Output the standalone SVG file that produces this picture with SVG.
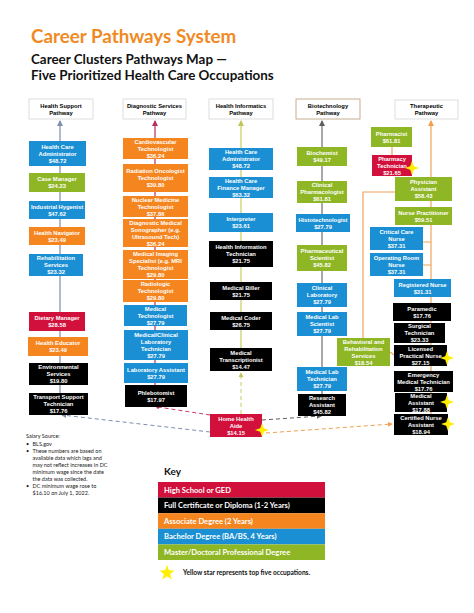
<svg xmlns="http://www.w3.org/2000/svg" width="474" height="613" viewBox="0 0 474 613">
<style>
.t{font-family:"Liberation Sans",Arial,sans-serif;font-weight:bold;font-size:5.8px;fill:#fff;text-anchor:middle}
.h{font-family:"Liberation Sans",Arial,sans-serif;font-weight:bold;font-size:5.8px;fill:#000;text-anchor:middle}
.hb{fill:#fff;stroke:#d4d4d4;stroke-width:0.8}
.blue{fill:#1a8fd3}.green{fill:#8fb624}.orange{fill:#f5851f}.red{fill:#d2103c}.black{fill:#000}
.ln{fill:none;stroke-width:1.2}
.ds{fill:none;stroke-width:1;stroke-dasharray:4 3}
.star{fill:#ffee00}
.title{font-family:Lato,"Liberation Sans",sans-serif;font-weight:bold}
.note{font-family:Lato,"Liberation Sans",sans-serif;font-size:5.5px;fill:#222}
.key{font-family:Lato,"Liberation Sans",sans-serif;font-weight:bold;font-size:7.6px;fill:#fff}
</style>
<defs>
<marker id="aBlue" viewBox="0 0 6 6" refX="5" refY="3" markerWidth="5" markerHeight="5" orient="auto"><path d="M0,0 L6,3 L0,6 Z" fill="#7d8cb0"/></marker>
<marker id="aRed" viewBox="0 0 6 6" refX="5" refY="3" markerWidth="5" markerHeight="5" orient="auto"><path d="M0,0 L6,3 L0,6 Z" fill="#b8305a"/></marker>
<marker id="aYel" viewBox="0 0 6 6" refX="5" refY="3" markerWidth="5" markerHeight="5" orient="auto"><path d="M0,0 L6,3 L0,6 Z" fill="#c0c45a"/></marker>
<marker id="aGray" viewBox="0 0 6 6" refX="5" refY="3" markerWidth="5" markerHeight="5" orient="auto"><path d="M0,0 L6,3 L0,6 Z" fill="#5e5e5e"/></marker>
<marker id="aOr" viewBox="0 0 6 6" refX="5" refY="3" markerWidth="5" markerHeight="5" orient="auto"><path d="M0,0 L6,3 L0,6 Z" fill="#f0a050"/></marker>
<marker id="dotRed" viewBox="0 0 6 6" refX="3" refY="3" markerWidth="4" markerHeight="4"><circle cx="3" cy="3" r="2.5" fill="#b8305a"/></marker>
<path id="s4" d="M0,-7 L1.8,-1.8 L7,0 L1.8,1.8 L0,7 L-1.8,1.8 L-7,0 L-1.8,-1.8 Z"/>
</defs>
<rect width="474" height="613" fill="#fff"/>

<g id="title">
<text class="title" x="31" y="43" font-size="18.8" fill="#f08a24">Career Pathways System</text>
<text class="title" x="31" y="64" font-size="13.4" fill="#111">Career Clusters Pathways Map —</text>
<text class="title" x="31" y="80" font-size="13.4" fill="#111">Five Prioritized Health Care Occupations</text>
</g>

<g id="connectors">
<path class="ln" stroke="#7d8cb0" d="M60,393 V121" marker-end="url(#aBlue)"/>
<path class="ln" stroke="#b8305a" d="M155,385 V121" marker-end="url(#aRed)"/>
<path class="ln" stroke="#c8cc60" d="M241,348 V121" marker-end="url(#aYel)"/>
<path class="ln" stroke="#6e6e6e" d="M322,394 V121" marker-end="url(#aGray)"/>
<path class="ln" stroke="#f2a35a" d="M431,414 V121" marker-end="url(#aOr)"/>
<path class="ln" stroke="#f2a35a" d="M363,338 V192 H395"/>
<path class="ln" stroke="#f2a35a" d="M390,352 L394,355"/>
<path class="ln" stroke="#f2a35a" d="M392,147 V155"/>
<path class="ln" stroke="#f2a35a" d="M423,242 H431 M423,265 H431"/>
<path class="ds" stroke="#7d8cb0" d="M210,432 L62,415" marker-end="url(#aBlue)"/>
<path class="ds" stroke="#c83a6a" d="M210,415 L158,407" marker-end="url(#dotRed)"/>
<path class="ds" stroke="#c8cc60" d="M241,414 V373" marker-end="url(#aYel)"/>
<path class="ds" stroke="#5e5e5e" d="M262,420 L321,416" marker-end="url(#aGray)"/>
<path class="ds" stroke="#f0a050" d="M266,433 L392,424" marker-end="url(#aOr)"/>
</g>

<g id="hdr-support"><rect class="hb" x="29" y="99" width="64" height="20"/><text class="h" x="61" y="107.5">Health Support<tspan x="61" dy="7">Pathway</tspan></text></g>
<g id="hdr-diag"><rect class="hb" x="123" y="99" width="63" height="20"/><text class="h" x="154.5" y="107.5">Diagnostic Services<tspan x="154.5" dy="7">Pathway</tspan></text></g>
<g id="hdr-info"><rect class="hb" x="209" y="99" width="64" height="20"/><text class="h" x="241" y="107.5">Health Informatics<tspan x="241" dy="7">Pathway</tspan></text></g>
<g id="hdr-bio"><rect class="hb" x="296" y="99" width="64" height="20" style="stroke:#b79a76"/><text class="h" x="328" y="107.5">Biotechnology<tspan x="328" dy="7">Pathway</tspan></text></g>
<g id="hdr-ther"><rect class="hb" x="395" y="100" width="63" height="19"/><text class="h" x="426.5" y="108">Therapeutic<tspan x="426.5" dy="7">Pathway</tspan></text></g>

<g id="hs-hca"><rect class="blue" x="29" y="141" width="57" height="25"/><text class="t" x="57.5" y="148.5">Health Care<tspan x="57.5" dy="7">Administrator</tspan><tspan x="57.5" dy="7">$48.72</tspan></text></g>
<g id="hs-case"><rect class="green" x="29" y="173" width="56" height="19"/><text class="t" x="57" y="181">Case Manager<tspan x="57" dy="7">$24.23</tspan></text></g>
<g id="hs-hyg"><rect class="blue" x="29" y="201" width="56" height="18"/><text class="t" x="57" y="208.5">Industrial Hygenist<tspan x="57" dy="7">$47.62</tspan></text></g>
<g id="hs-nav"><rect class="orange" x="29" y="227" width="56" height="18"/><text class="t" x="57" y="234.5">Health Navigator<tspan x="57" dy="7">$23.49</tspan></text></g>
<g id="hs-rehab"><rect class="blue" x="29" y="254" width="54" height="22"/><text class="t" x="56" y="260">Rehabilitation<tspan x="56" dy="7">Services</tspan><tspan x="56" dy="7">$23.32</tspan></text></g>
<g id="hs-diet"><rect class="red" x="29" y="312" width="56" height="19"/><text class="t" x="57" y="320">Dietary Manager<tspan x="57" dy="7">$28.58</tspan></text></g>
<g id="hs-edu"><rect class="orange" x="28" y="337" width="60" height="19"/><text class="t" x="58" y="345">Health Educator<tspan x="58" dy="7">$23.49</tspan></text></g>
<g id="hs-env"><rect class="black" x="29" y="363" width="59" height="22"/><text class="t" x="58.5" y="369">Environmental<tspan x="58.5" dy="7">Services</tspan><tspan x="58.5" dy="7">$19.80</tspan></text></g>
<g id="hs-trans"><rect class="black" x="29" y="393" width="59" height="22"/><text class="t" x="58.5" y="399">Transport Support<tspan x="58.5" dy="7">Technician</tspan><tspan x="58.5" dy="7">$17.76</tspan></text></g>

<g id="ds-cardio"><rect class="orange" x="123" y="138" width="65" height="21"/><text class="t" x="155.5" y="143.5">Cardiovascular<tspan x="155.5" dy="7">Technologist</tspan><tspan x="155.5" dy="7">$36.24</tspan></text></g>
<g id="ds-rad-onc"><rect class="orange" x="123" y="164" width="65" height="28"/><text class="t" x="155.5" y="173">Radiation Oncologist<tspan x="155.5" dy="7">Technologist</tspan><tspan x="155.5" dy="7">$39.80</tspan></text></g>
<g id="ds-nuc"><rect class="orange" x="123" y="196" width="65" height="21"/><text class="t" x="155.5" y="201.5">Nuclear Medicine<tspan x="155.5" dy="7">Technologist</tspan><tspan x="155.5" dy="7">$37.86</tspan></text></g>
<g id="ds-sono"><rect class="orange" x="123" y="219" width="65" height="28"/><text class="t" x="155.5" y="224.5">Diagnostic Medical<tspan x="155.5" dy="7">Sonographer (e.g.</tspan><tspan x="155.5" dy="7">Ultrasound Tech)</tspan><tspan x="155.5" dy="7">$36.24</tspan></text></g>
<g id="ds-mri"><rect class="orange" x="123" y="250" width="65" height="29"/><text class="t" x="155.5" y="256">Medical Imaging<tspan x="155.5" dy="7">Specialist (e.g. MRI</tspan><tspan x="155.5" dy="7">Technologist</tspan><tspan x="155.5" dy="7">$29.80</tspan></text></g>
<g id="ds-radio"><rect class="orange" x="123" y="280" width="65" height="22"/><text class="t" x="155.5" y="286">Radiologic<tspan x="155.5" dy="7">Technologist</tspan><tspan x="155.5" dy="7">$29.80</tspan></text></g>
<g id="ds-medtech"><rect class="blue" x="124" y="305" width="63" height="21"/><text class="t" x="155.5" y="310.5">Medical<tspan x="155.5" dy="7">Technologist</tspan><tspan x="155.5" dy="7">$27.79</tspan></text></g>
<g id="ds-clt"><rect class="blue" x="124" y="330" width="64" height="30"/><text class="t" x="156" y="336.5">Medical/Clinical<tspan x="156" dy="7">Laboratory</tspan><tspan x="156" dy="7">Technician</tspan><tspan x="156" dy="7">$27.79</tspan></text></g>
<g id="ds-labasst"><rect class="blue" x="124" y="363" width="64" height="20"/><text class="t" x="156" y="371.5">Laboratory Assistant<tspan x="156" dy="7">$27.79</tspan></text></g>
<g id="ds-phleb"><rect class="black" x="125" y="385" width="62" height="22"/><text class="t" x="156" y="394.5">Phlebotomist<tspan x="156" dy="7">$17.97</tspan></text></g>

<g id="hi-hca"><rect class="blue" x="209" y="148" width="64" height="22"/><text class="t" x="241" y="154">Health Care<tspan x="241" dy="7">Administrator</tspan><tspan x="241" dy="7">$48.72</tspan></text></g>
<g id="hi-fin"><rect class="blue" x="209" y="177" width="64" height="21"/><text class="t" x="241" y="182.5">Health Care<tspan x="241" dy="7">Finance Manager</tspan><tspan x="241" dy="7">$63.32</tspan></text></g>
<g id="hi-interp"><rect class="blue" x="209" y="213" width="64" height="19"/><text class="t" x="241" y="221">Interpreter<tspan x="241" dy="7">$23.61</tspan></text></g>
<g id="hi-hit"><rect class="black" x="209" y="241" width="64" height="26"/><text class="t" x="241" y="249">Health Information<tspan x="241" dy="7">Technician</tspan><tspan x="241" dy="7">$21.75</tspan></text></g>
<g id="hi-biller"><rect class="black" x="210" y="282" width="62" height="18"/><text class="t" x="241" y="289.5">Medical Biller<tspan x="241" dy="7">$21.75</tspan></text></g>
<g id="hi-coder"><rect class="black" x="210" y="312" width="62" height="18"/><text class="t" x="241" y="319.5">Medical Coder<tspan x="241" dy="7">$26.75</tspan></text></g>
<g id="hi-trans"><rect class="black" x="210" y="348" width="62" height="23"/><text class="t" x="241" y="354.5">Medical<tspan x="241" dy="7">Transcriptionist</tspan><tspan x="241" dy="7">$14.47</tspan></text></g>
<g id="hha"><rect class="red" x="210" y="414" width="52" height="23"/><text class="t" x="236" y="420.5">Home Health<tspan x="236" dy="7">Aide</tspan><tspan x="236" dy="7">$14.15</tspan></text><use href="#s4" class="star" x="262" y="430"/></g>

<g id="bt-biochem"><rect class="green" x="297" y="147" width="50" height="19"/><text class="t" x="322" y="155">Biochemist<tspan x="322" dy="7">$49.17</tspan></text></g>
<g id="bt-pharmacol"><rect class="green" x="297" y="181" width="50" height="22"/><text class="t" x="322" y="187">Clinical<tspan x="322" dy="7">Pharmacologist</tspan><tspan x="322" dy="7">$61.81</tspan></text></g>
<g id="bt-histo"><rect class="blue" x="296" y="214" width="54" height="18"/><text class="t" x="323" y="221.5">Histotechnologist<tspan x="323" dy="7">$27.79</tspan></text></g>
<g id="bt-pharmsci"><rect class="green" x="297" y="245" width="50" height="26"/><text class="t" x="322" y="253">Pharmaceutical<tspan x="322" dy="7">Scientist</tspan><tspan x="322" dy="7">$45.82</tspan></text></g>
<g id="bt-clinlab"><rect class="blue" x="297" y="283" width="50" height="24"/><text class="t" x="322" y="290">Clinical<tspan x="322" dy="7">Laboratory</tspan><tspan x="322" dy="7">$27.79</tspan></text></g>
<g id="bt-mls"><rect class="blue" x="297" y="312" width="50" height="24"/><text class="t" x="322" y="319">Medical Lab<tspan x="322" dy="7">Scientist</tspan><tspan x="322" dy="7">$27.79</tspan></text></g>
<g id="bt-mlt"><rect class="blue" x="297" y="367" width="50" height="24"/><text class="t" x="322" y="374">Medical Lab<tspan x="322" dy="7">Technician</tspan><tspan x="322" dy="7">$27.79</tspan></text></g>
<g id="bt-research"><rect class="black" x="298" y="394" width="48" height="22"/><text class="t" x="322" y="400">Research<tspan x="322" dy="7">Assistant</tspan><tspan x="322" dy="7">$45.82</tspan></text></g>
<g id="behav"><rect class="green" x="337" y="338" width="53" height="28"/><text class="t" x="363.5" y="343.5">Behavioral and<tspan x="363.5" dy="7">Rehabilitation</tspan><tspan x="363.5" dy="7">Services</tspan><tspan x="363.5" dy="7">$18.54</tspan></text></g>

<g id="th-pharmacist"><rect class="green" x="371" y="127" width="41" height="20"/><text class="t" x="391.5" y="135.5">Pharmacist<tspan x="391.5" dy="7">$61.81</tspan></text></g>
<g id="th-pharmtech"><rect class="red" x="372" y="155" width="40" height="21"/><text class="t" x="392" y="160.5">Pharmacy<tspan x="392" dy="7">Technician</tspan><tspan x="392" dy="7">$21.65</tspan></text><use href="#s4" class="star" x="412" y="168"/></g>
<g id="th-pa"><rect class="green" x="395" y="177" width="57" height="24"/><text class="t" x="423.5" y="184">Physician<tspan x="423.5" dy="7">Assistant</tspan><tspan x="423.5" dy="7">$58.43</tspan></text></g>
<g id="th-np"><rect class="green" x="395" y="207" width="57" height="18"/><text class="t" x="423.5" y="214.5">Nurse Practitioner<tspan x="423.5" dy="7">$59.51</tspan></text></g>
<g id="th-ccn"><rect class="blue" x="370" y="227" width="53" height="23"/><text class="t" x="396.5" y="233.5">Critical Care<tspan x="396.5" dy="7">Nurse</tspan><tspan x="396.5" dy="7">$37.31</tspan></text></g>
<g id="th-orn"><rect class="blue" x="370" y="253" width="53" height="23"/><text class="t" x="396.5" y="259.5">Operating Room<tspan x="396.5" dy="7">Nurse</tspan><tspan x="396.5" dy="7">$37.31</tspan></text></g>
<g id="th-rn"><rect class="blue" x="394" y="279" width="57" height="18"/><text class="t" x="422.5" y="286.5">Registered Nurse<tspan x="422.5" dy="7">$31.31</tspan></text></g>
<g id="th-para"><rect class="black" x="393" y="303" width="58" height="18"/><text class="t" x="422" y="310.5">Paramedic<tspan x="422" dy="7">$17.76</tspan></text></g>
<g id="th-surg"><rect class="black" x="394" y="323" width="51" height="20"/><text class="t" x="419.5" y="328">Surgical<tspan x="419.5" dy="7">Technician</tspan><tspan x="419.5" dy="7">$23.33</tspan></text></g>
<g id="th-lpn"><rect class="black" x="394" y="345" width="53" height="21"/><text class="t" x="420.5" y="350.5">Licensed<tspan x="420.5" dy="7">Practical Nurse</tspan><tspan x="420.5" dy="7">$27.15</tspan></text><use href="#s4" class="star" x="447" y="358"/></g>
<g id="th-emt"><rect class="black" x="394" y="371" width="59" height="21"/><text class="t" x="423.5" y="376.5">Emergency<tspan x="423.5" dy="7">Medical Technician</tspan><tspan x="423.5" dy="7">$17.76</tspan></text></g>
<g id="th-ma"><rect class="black" x="395" y="393" width="52" height="19"/><text class="t" x="421" y="397.5">Medical<tspan x="421" dy="7">Assistant</tspan><tspan x="421" dy="7">$17.88</tspan></text><use href="#s4" class="star" x="447" y="402"/></g>
<g id="th-cna"><rect class="black" x="394" y="414" width="54" height="21"/><text class="t" x="421" y="419.5">Certified Nurse<tspan x="421" dy="7">Assistant</tspan><tspan x="421" dy="7">$18.94</tspan></text><use href="#s4" class="star" x="448" y="424"/></g>

<g id="salary-note">
<text class="note" x="26" y="438">Salary Source:</text>
<text class="note" x="26" y="446">•</text><text class="note" x="32.5" y="446">BLS.gov</text>
<text class="note" x="26" y="453">•</text>
<text class="note" x="32.5" y="453">These numbers are based on<tspan x="32.5" dy="7">available data which lags and</tspan><tspan x="32.5" dy="7">may not reflect increases in DC</tspan><tspan x="32.5" dy="7">minimum wage  since the date</tspan><tspan x="32.5" dy="7">the data was collected.</tspan></text>
<text class="note" x="26" y="488">•</text>
<text class="note" x="32.5" y="488">DC minimum wage rose to<tspan x="32.5" dy="7">$16.10 on July 1, 2022.</tspan></text>
</g>

<g id="key">
<text x="164" y="475" font-family="Lato,'Liberation Sans',sans-serif" font-weight="bold" font-size="10" fill="#111">Key</text>
<rect x="158" y="482" width="167" height="15.6" fill="#d2103c"/>
<rect x="158" y="497.6" width="167" height="15.6" fill="#000"/>
<rect x="158" y="513.2" width="167" height="15.6" fill="#f5851f"/>
<rect x="158" y="528.8" width="167" height="15.6" fill="#1a8fd3"/>
<rect x="158" y="544.4" width="167" height="15.6" fill="#8fb624"/>
<text class="key" x="164" y="492.6">High School or GED</text>
<text class="key" x="164" y="508.2">Full Certificate or Diploma (1-2 Years)</text>
<text class="key" x="164" y="523.8">Associate Degree (2 Years)</text>
<text class="key" x="164" y="539.4">Bachelor Degree (BA/BS, 4 Years)</text>
<text class="key" x="164" y="555">Master/Doctoral Professional Degree</text>
<path class="star" transform="translate(167,573)" d="M0,-8 L1.94,-2.67 L7.61,-2.47 L3.14,1.02 L4.70,6.47 L0,3.3 L-4.70,6.47 L-3.14,1.02 L-7.61,-2.47 L-1.94,-2.67 Z"/>
<text x="183" y="575" font-family="Lato,'Liberation Sans',sans-serif" font-weight="bold" font-size="6.6" fill="#111">Yellow star represents top five occupations.</text>
</g>
</svg>
